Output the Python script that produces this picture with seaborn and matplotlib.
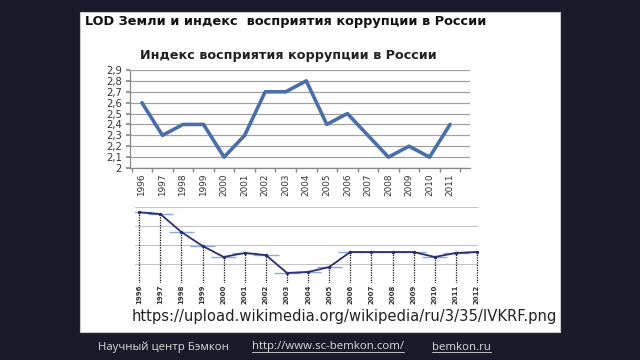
#!/usr/bin/env python3
"""Слайд: LOD Земли и индекс восприятия коррупции в России."""

import matplotlib.pyplot as plt
import pandas as pd
import seaborn as sns
from matplotlib.patches import Rectangle

# индекс восприятия коррупции (верхний график)
years_cpi = list(range(1996, 2012))
cpi = [2.6, 2.3, 2.4, 2.4, 2.1, 2.3, 2.7, 2.7, 2.8, 2.4, 2.5, 2.3, 2.1, 2.2, 2.1, 2.4]
cpi_ticks = [2.0, 2.1, 2.2, 2.3, 2.4, 2.5, 2.6, 2.7, 2.8, 2.9]
cpi_tick_labels = ["2", "2,1", "2,2", "2,3", "2,4", "2,5", "2,6", "2,7", "2,8", "2,9"]

# LOD (нижний график, значения оценены по картинке)
years_lod = list(range(1996, 2013))
lod = [3.72, 3.63, 2.68, 1.95, 1.37, 1.58, 1.47, 0.53, 0.58, 0.84,
       1.63, 1.63, 1.63, 1.63, 1.37, 1.58, 1.63]

TITLE = "LOD Земли и индекс  восприятия коррупции в России"
CHART_TITLE = "Индекс восприятия коррупции в России"
SOURCE = "https://upload.wikimedia.org/wikipedia/ru/3/35/IVKRF.png"
FOOTER = ["Научный центр Бэмкон", "http://www.sc-bemkon.com/", "bemkon.ru"]

BG = "#1b1a2a"
W, H = 640, 360


def fx(px):
    return px / W


def fy(py):
    return 1 - py / H


sns.set_theme(style="white")
plt.rcParams["font.family"] = ["DejaVu Sans"]

fig = plt.figure(figsize=(6.4, 3.6), dpi=100)
fig.patch.set_facecolor(BG)

# белая область слайда (отдельная ось под всеми графиками)
bg_ax = fig.add_axes([0, 0, 1, 1], zorder=-10)
bg_ax.set_axis_off()
bg_ax.set_xlim(0, 1)
bg_ax.set_ylim(0, 1)
bg_ax.add_patch(Rectangle((fx(80), fy(332)), fx(480), 320 / H,
                          facecolor="white", edgecolor="#c8c8c8",
                          linewidth=0.8))

fig.text(fx(85), fy(22), TITLE, fontsize=9.3, fontweight="bold",
         color="#111111", va="center", ha="left")

# верхний график
df_cpi = pd.DataFrame({"year": years_cpi, "cpi": cpi})
ax = fig.add_axes([fx(130), fy(168), fx(340), 98 / H])
ax.patch.set_alpha(0)
sns.lineplot(data=df_cpi, x="year", y="cpi", ax=ax, color="#4a6fa8",
             linewidth=2.6)
ax.set_xlim(1995.42, 2011.97)
ax.set_ylim(2.0, 2.9)
ax.set_yticks(cpi_ticks)
ax.set_yticklabels(cpi_tick_labels, fontsize=7.2, color="#333333")
ax.set_xticks(years_cpi)
ax.set_xticklabels([str(y) for y in years_cpi], rotation=90, fontsize=6.4,
                   color="#333333")
ax.set_xticks([y + 0.5 for y in [years_cpi[0] - 1] + years_cpi], minor=True)
ax.tick_params(axis="x", which="major", length=0, pad=4)
ax.tick_params(axis="x", which="minor", length=3, color="#888888",
               direction="out", bottom=True)
ax.tick_params(axis="y", length=3, color="#888888", direction="out",
               left=True, pad=3)
ax.grid(axis="y", color="#a0a0a0", linewidth=0.9)
ax.set_axisbelow(True)
for side in ["top", "right"]:
    ax.spines[side].set_visible(False)
for side in ["left", "bottom"]:
    ax.spines[side].set_color("#888888")
    ax.spines[side].set_linewidth(0.9)
ax.set_xlabel("")
ax.set_ylabel("")
fig.text(fx(288), fy(55), CHART_TITLE, fontsize=9.2, fontweight="bold",
         color="#222222", ha="center", va="center")

# нижний график (LOD)
df_lod = pd.DataFrame({"year": years_lod, "lod": lod})
ax2 = fig.add_axes([fx(135), fy(283), fx(343), 76 / H])
ax2.patch.set_alpha(0)
ax2.vlines(df_lod["year"], 0, df_lod["lod"], colors="#111111",
           linestyles=(0, (1, 1)), linewidth=0.9)
ax2.errorbar(df_lod["year"], df_lod["lod"], xerr=0.6, fmt="none",
             ecolor="#6d96d0", elinewidth=1.0, alpha=0.8)
sns.lineplot(data=df_lod, x="year", y="lod", ax=ax2, color="#2b2f6e",
             linewidth=1.3, marker="o", markersize=2.5,
             markeredgewidth=0, zorder=5)
ax2.set_xlim(1995.8, 2012.05)
ax2.set_ylim(0, 4)
ax2.set_yticks([1, 2, 3, 4])
ax2.set_yticklabels([])
ax2.tick_params(axis="y", length=0)
ax2.set_xticks(years_lod)
ax2.set_xticklabels([str(y) for y in years_lod], rotation=90, fontsize=5.0,
                    fontweight="bold", color="#333333")
ax2.tick_params(axis="x", length=0, pad=1)
ax2.grid(axis="y", color="#c4c4c4", linewidth=0.8)
ax2.set_axisbelow(True)
for side in ax2.spines:
    ax2.spines[side].set_visible(False)
ax2.set_xlabel("")
ax2.set_ylabel("")

fig.text(fx(557), fy(316), SOURCE, fontsize=10.6, color="#222222",
         ha="right", va="center")

# подпись внизу
footer_x = [98, 252, 432]
for i, (txt, x) in enumerate(zip(FOOTER, footer_x)):
    t = fig.text(fx(x), fy(347), txt, fontsize=8.2, color="#dcdcdc",
                 ha="left", va="center", family=["Open Sans", "DejaVu Sans"])
    if i > 0:
        fig.canvas.draw()
        bb = t.get_window_extent()
        fig.add_artist(plt.Line2D([bb.x0 / W, bb.x1 / W],
                                  [bb.y0 / H + 0.002, bb.y0 / H + 0.002],
                                  transform=fig.transFigure,
                                  color="#dcdcdc", linewidth=0.6))

fig.savefig("out.png", dpi=100, facecolor=BG)
